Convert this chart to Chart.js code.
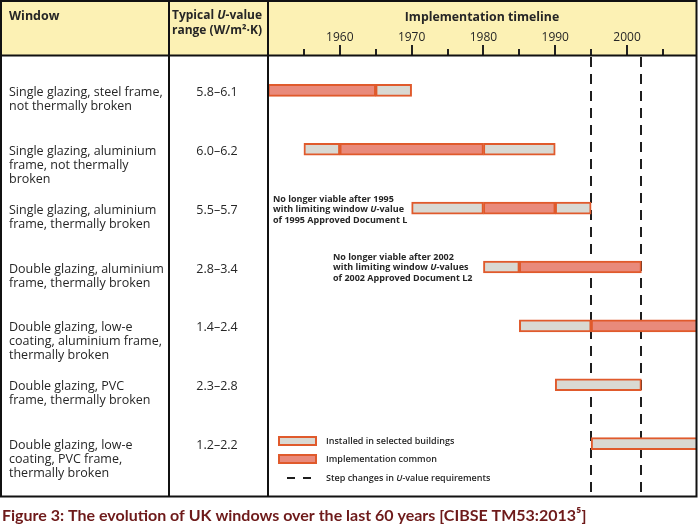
<!DOCTYPE html>
<html>
<head>
<meta charset="utf-8">
<script src="https://cdn.jsdelivr.net/npm/chart.js@4.4.1/dist/chart.umd.min.js"></script>
<style>
  html, body { margin: 0; padding: 0; background: #fff; }
  canvas { display: block; }
</style>
</head>
<body>
<canvas id="windowChart" width="698" height="529"></canvas>
<script>
// ---------- Data ----------
const categories = [
  ['Single glazing, steel frame,', 'not thermally broken'],
  ['Single glazing, aluminium', 'frame, not thermally', 'broken'],
  ['Single glazing, aluminium', 'frame, thermally broken'],
  ['Double glazing, aluminium', 'frame, thermally broken'],
  ['Double glazing, low-e', 'coating, aluminium frame,', 'thermally broken'],
  ['Double glazing, PVC', 'frame, thermally broken'],
  ['Double glazing, low-e', 'coating, PVC frame,', 'thermally broken'],
];

const uValueRanges = ['5.8–6.1', '6.0–6.2', '5.5–5.7', '2.8–3.4', '1.4–2.4', '2.3–2.8', '1.2–2.2'];

// floating bars [from, to] in years
const selectedEarly = [null, [1955, 1960], [1970, 1980], [1980, 1985], [1985, 1995], [1990, 2002], [1995, 2010]];
const commonUse     = [[1950, 1965], [1960, 1980], [1980, 1990], [1985, 2002], [1995, 2010], null, null];
const selectedLate  = [[1965, 1970], [1980, 1990], [1990, 1995], null, null, null, null];

const stepChangeYears = [1995, 2002];
const tickYears   = [1955, 1960, 1965, 1970, 1975, 1980, 1985, 1990, 1995, 2000, 2005];
const yearLabels  = [1960, 1970, 1980, 1990, 2000];

// ---------- Styles ----------
const BAR_BORDER   = '#e05a2c';
const COMMON_FILL  = '#e98a7b';
const SELECT_FILL  = '#d9d9d3';
const HEADER_FILL  = '#fcf1b4';
const TEXT_COLOR   = '#262626';
const FONT         = '"Open Sans", "Noto Sans", sans-serif';

// ---------- Helpers ----------
function drawRich(ctx, parts, x, y, size, weight) {
  let cx = x;
  parts.forEach(p => {
    ctx.font = `${p.italic ? 'italic ' : ''}${weight} ${size}px ${FONT}`;
    ctx.fillText(p.t, cx, y);
    cx += ctx.measureText(p.t).width;
  });
}

function splitU(line) {
  // marks the italic "U" in U-value
  const parts = [];
  line.split('|').forEach((t, i) => { if (t) parts.push({ t, italic: i % 2 === 1 }); });
  return parts;
}

// ---------- Table plugin ----------
const tablePlugin = {
  id: 'tableFrame',
  beforeDraw(chart) {
    const { ctx, scales: { x, y } } = chart;
    ctx.save();
    ctx.fillStyle = '#fff';
    ctx.fillRect(0, 0, chart.width, chart.height);

    // header
    ctx.fillStyle = HEADER_FILL;
    ctx.fillRect(1, 1, 695, 54);

    ctx.fillStyle = TEXT_COLOR;
    ctx.textBaseline = 'middle';
    ctx.textAlign = 'left';
    ctx.font = `bold 12.5px ${FONT}`;
    ctx.fillText('Window', 9, 16);
    drawRich(ctx, [{ t: 'Typical ' }, { t: 'U', italic: true }, { t: '-value' }], 172, 16, 12, 'bold');
    drawRich(ctx, [{ t: 'range (W/m²·K)' }], 172, 31, 12, 'bold');
    ctx.textAlign = 'center';
    ctx.font = `bold 12.3px ${FONT}`;
    ctx.fillText('Implementation timeline', (x.left + x.right) / 2, 17);

    // year ticks
    ctx.font = `12px ${FONT}`;
    yearLabels.forEach(yr => ctx.fillText(String(yr), x.getPixelForValue(yr), 38));
    ctx.strokeStyle = '#222';
    ctx.lineWidth = 2;
    tickYears.forEach(yr => {
      const px = Math.round(x.getPixelForValue(yr));
      const top = yr % 10 === 0 ? 45 : 49;
      ctx.beginPath();
      ctx.moveTo(px, top);
      ctx.lineTo(px, 55);
      ctx.stroke();
    });

    // row texts
    categories.forEach((lines, i) => {
      const py = y.getPixelForValue(i) + 2;
      ctx.textAlign = 'left';
      ctx.font = `12.5px ${FONT}`;
      lines.forEach((ln, k) => ctx.fillText(ln, 9, py + k * 14));
      ctx.textAlign = 'center';
      ctx.fillText(uValueRanges[i], 217, py);
    });

    // notes
    ctx.textAlign = 'left';
    const note1995 = ['No longer viable after 1995', 'with limiting window |U|-value', 'of 1995 Approved Document L'];
    const note2002 = ['No longer viable after 2002', 'with limiting window |U|-values', 'of 2002 Approved Document L2'];
    const y3 = y.getPixelForValue(2), y4 = y.getPixelForValue(3);
    note1995.forEach((ln, k) => drawRich(ctx, splitU(ln), x.left + 5, y3 - 9 + k * 10.5, 9, 'bold'));
    note2002.forEach((ln, k) => drawRich(ctx, splitU(ln), x.left + 65, y4 - 10 + k * 10.5, 9, 'bold'));
    ctx.restore();
  },
  beforeDatasetsDraw(chart) {
    const { ctx, scales: { x } } = chart;
    ctx.save();
    ctx.strokeStyle = '#1e1e1e';
    ctx.lineWidth = 2;
    ctx.setLineDash([10, 7]);
    stepChangeYears.forEach(yr => {
      const px = Math.round(x.getPixelForValue(yr));
      ctx.beginPath();
      ctx.moveTo(px, 57);
      ctx.lineTo(px, 496);
      ctx.stroke();
    });
    ctx.restore();
  },
  afterDraw(chart) {
    const { ctx, scales: { x } } = chart;
    ctx.save();
    // grid of the table
    ctx.strokeStyle = '#111';
    ctx.lineWidth = 2;
    ctx.strokeRect(1, 1, 695.5, 495.5);
    ctx.beginPath();
    ctx.moveTo(1, 55.5); ctx.lineTo(696.5, 55.5);
    ctx.moveTo(169, 1); ctx.lineTo(169, 496.5);
    ctx.moveTo(x.left, 1); ctx.lineTo(x.left, 496.5);
    ctx.stroke();

    // legend
    const lx = x.left + 11;
    ctx.lineWidth = 2;
    ctx.strokeStyle = BAR_BORDER;
    ctx.fillStyle = SELECT_FILL;
    ctx.fillRect(lx, 437, 37, 8);
    ctx.strokeRect(lx, 437, 37, 8);
    ctx.fillStyle = COMMON_FILL;
    ctx.fillRect(lx, 455, 37, 8);
    ctx.strokeRect(lx, 455, 37, 8);
    ctx.strokeStyle = '#1e1e1e';
    ctx.beginPath();
    ctx.moveTo(lx + 8, 478); ctx.lineTo(lx + 16, 478);
    ctx.moveTo(lx + 24, 478); ctx.lineTo(lx + 32, 478);
    ctx.stroke();

    ctx.fillStyle = TEXT_COLOR;
    ctx.textBaseline = 'middle';
    ctx.textAlign = 'left';
    ctx.font = `600 9px ${FONT}`;
    ctx.fillText('Installed in selected buildings', lx + 47, 441);
    ctx.fillText('Implementation common', lx + 47, 459);
    drawRich(ctx, splitU('Step changes in |U|-value requirements'), lx + 47, 478, 9, '600');

    // caption
    ctx.fillStyle = '#6e1a1a';
    ctx.font = `bold 16px Lato, ${FONT}`;
    ctx.fillText('Figure 3: The evolution of UK windows over the last 60 years [CIBSE TM53:2013⁵]', 2, 516);
    ctx.restore();
  }
};

// ---------- Chart ----------
const barStyle = {
  borderColor: BAR_BORDER,
  borderWidth: 2,
  borderSkipped: false,
  barThickness: 12,
  grouped: false,
};

new Chart(document.getElementById('windowChart'), {
  type: 'bar',
  data: {
    labels: categories,
    datasets: [
      { label: 'Installed in selected buildings', data: selectedEarly, backgroundColor: SELECT_FILL, ...barStyle },
      { label: 'Implementation common', data: commonUse, backgroundColor: COMMON_FILL, ...barStyle },
      { label: 'Installed in selected buildings (later)', data: selectedLate, backgroundColor: SELECT_FILL, ...barStyle },
    ],
  },
  options: {
    indexAxis: 'y',
    responsive: false,
    animation: false,
    devicePixelRatio: 1,
    layout: { padding: { left: 268, right: 2, top: 61, bottom: 56 } },
    scales: {
      x: { type: 'linear', min: 1950, max: 2009.6, display: false },
      y: { type: 'category', display: false, offset: true },
    },
    plugins: {
      legend: { display: false },
      tooltip: { enabled: false },
    },
  },
  plugins: [tablePlugin],
});
</script>
</body>
</html>
